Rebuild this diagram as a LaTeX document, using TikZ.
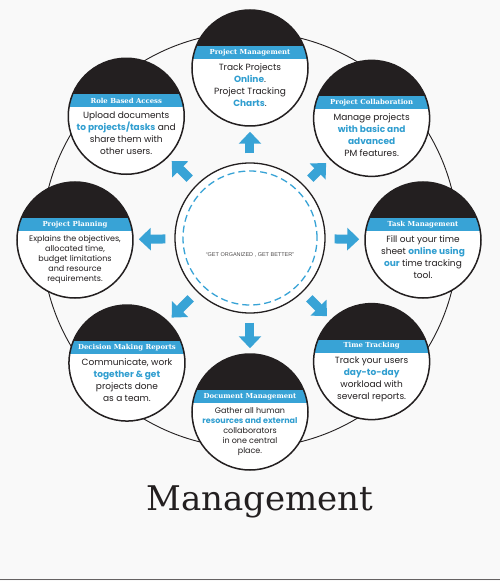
\documentclass[tikz,border=0pt]{standalone}
\usepackage{fontspec}
\setmainfont{Poppins}
\newfontfamily\bandfont{DejaVu Serif}
\newfontfamily\tagfont{Liberation Sans}
\usepackage{tikz}
\usetikzlibrary{positioning, arrows.meta}

\definecolor{capblack}{RGB}{35,31,32}
\definecolor{bandblue}{RGB}{56,163,214}
\definecolor{textblue}{RGB}{48,158,208}
\definecolor{paper}{RGB}{249,249,249}
\newcommand{\bluetxt}[1]{\textcolor{textblue}{\bfseries #1}}

\begin{document}
\begin{tikzpicture}[x=1pt, y=1pt,
    topic/.style={circle, draw=capblack, line width=1.5pt, fill=white, minimum size=116pt, inner sep=0pt,
      path picture={
        \fill[capblack] ([yshift=22pt]path picture bounding box.center) ++(-60pt,0) rectangle ++(120pt,40pt);
        \fill[bandblue] ([yshift=9pt]path picture bounding box.center) ++(-60pt,0) rectangle ++(120pt,13pt);
      }},
    bandtitle/.style={font=\bandfont\bfseries\fontsize{6.9}{8}\selectfont, text=white, inner sep=0pt},
    body/.style={font=\fontsize{9}{12}\selectfont, align=center, anchor=north, inner sep=0pt, text=capblack},
    smallbody/.style={body, font=\fontsize{8}{10}\selectfont},
    flow/.style={draw=bandblue, line width=9pt, -{Triangle[width=22pt, length=12pt]}, shorten <=9pt, shorten >=5pt}]

  \fill[paper] (-250,-341) rectangle (250,240);
  \useasboundingbox (-250,-341) rectangle (250,240);
  \draw[capblack!70, line width=0.5pt] (-250,-339.5) -- (250,-339.5);

  % outer ring behind the circles
  \draw[capblack, line width=0.9pt] (0,0) circle (208pt);

  \node[circle, draw=capblack, line width=1.3pt, fill=white, minimum size=150pt] (hub) at (0,2) {};
  \node[circle, draw=bandblue, line width=1.3pt, dash pattern=on 7pt off 4pt, minimum size=134pt] (hubring) at (hub) {};
  \node[font=\tagfont\fontsize{5.5}{6}\selectfont, text=capblack!80] (tag) at (0,-15) {“GET ORGANIZED , GET BETTER”};

  \node[topic] (pm)  at (90:172pt)  {};
  \node[topic] (pc)  at (45:172pt)  {};
  \node[topic] (tm)  at (0:173pt)   {};
  \node[topic] (tt)  at (-45:172pt) {};
  \node[topic] (dm)  at (-90:172pt) {};
  \node[topic] (dmr) at (-135:174pt) {};
  \node[topic] (pp)  at (180:175pt) {};
  \node[topic] (rba) at (135:175pt) {};

  \foreach \t in {pm, pc, tm, tt, dm, dmr, pp, rba}
    \draw[flow] (hub) -- (\t);

  \node[bandtitle] (pmtitle) at ([yshift=15.5pt]pm.center) {Project Management};
  \node[body] (pmtext) at ([yshift=5pt]pm.center) {Track Projects\\ \bluetxt{Online}.\\ Project Tracking\\ \bluetxt{Charts}.};

  \node[bandtitle] (pctitle) at ([yshift=15.5pt]pc.center) {Project Collaboration};
  \node[body] (pctext) at ([yshift=5pt]pc.center) {Manage projects\\ \bluetxt{with basic and}\\ \bluetxt{advanced}\\ PM features.};

  \node[bandtitle] (tmtitle) at ([yshift=15.5pt]tm.center) {Task Management};
  \node[body] (tmtext) at ([yshift=5pt]tm.center) {Fill out your time\\ sheet \bluetxt{online using}\\ \bluetxt{our} time tracking\\ tool.};

  \node[bandtitle] (tttitle) at ([yshift=15.5pt]tt.center) {Time Tracking};
  \node[body] (tttext) at ([yshift=5pt]tt.center) {Track your users\\ \bluetxt{day-to-day}\\ workload with\\ several reports.};

  \node[bandtitle] (dmtitle) at ([yshift=15.5pt]dm.center) {Document Management};
  \node[smallbody] (dmtext) at ([yshift=5pt]dm.center) {Gather all human\\ \bluetxt{resources and external}\\ collaborators\\ in one central\\ place.};

  \node[bandtitle] (dmrtitle) at ([yshift=15.5pt]dmr.center) {Decision Making Reports};
  \node[body] (dmrtext) at ([yshift=5pt]dmr.center) {Communicate, work\\ \bluetxt{together \& get}\\ projects done\\ as a team.};

  \node[bandtitle] (pptitle) at ([yshift=15.5pt]pp.center) {Project Planning};
  \node[smallbody] (pptext) at ([yshift=5pt]pp.center) {Explains the objectives,\\ allocated time,\\ budget limitations\\ and resource\\ requirements.};

  \node[bandtitle] (rbatitle) at ([yshift=15.5pt]rba.center) {Role Based Access};
  \node[body] (rbatext) at ([yshift=5pt]rba.center) {Upload documents\\ \bluetxt{to projects/tasks} and\\ share them with\\ other users.};

  \node[anchor=base, font=\bandfont\fontsize{34}{36}\selectfont, text=capblack] (title) at (10,-270) {Management};
\end{tikzpicture}
\end{document}
